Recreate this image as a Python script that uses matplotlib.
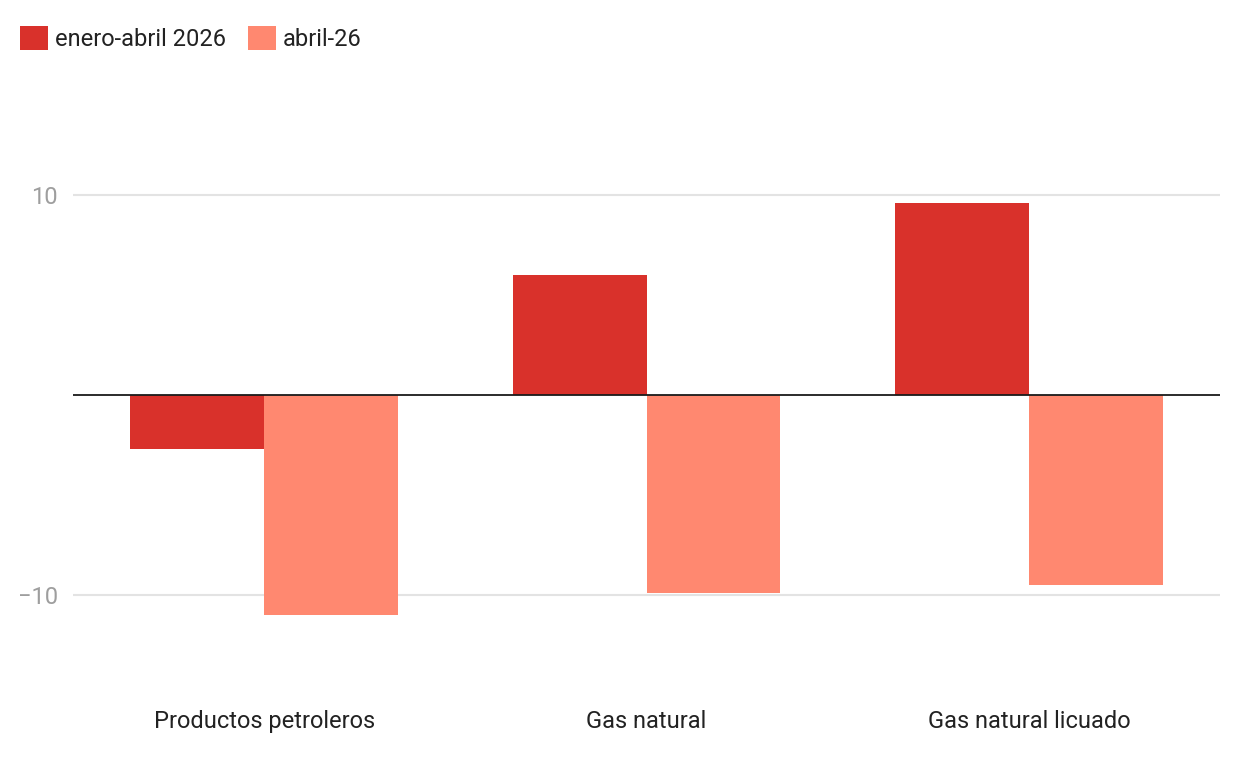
import matplotlib
matplotlib.use("Agg")
import matplotlib.pyplot as plt
import numpy as np

categories = ["Productos petroleros", "Gas natural", "Gas natural licuado"]
series_names = ["enero-abril 2026", "abril-26"]
enero_abril = [-2.7, 6.0, 9.6]
abril = [-11.0, -9.9, -9.5]
colors = ["#d9312b", "#ff8870"]
yticks = [-10, 10]

plt.rcParams["font.family"] = ["Roboto", "DejaVu Sans"]

fig = plt.figure(figsize=(12.4, 7.6), dpi=100)
W, H = 1240, 760
top_px, bot_px = 95, 695
ax = fig.add_axes([73 / W, (H - bot_px) / H, (1220 - 73) / W, (bot_px - top_px) / H])

x = np.arange(len(categories))
w = 0.35
b1 = ax.bar(x - w / 2, enero_abril, width=w, color=colors[0], label=series_names[0], zorder=3)
b2 = ax.bar(x + w / 2, abril, width=w, color=colors[1], label=series_names[1], zorder=3)

ax.set_xlim(-0.5, len(categories) - 0.5)
ax.set_ylim(-15, 15)
ax.set_yticks(yticks)
ax.set_yticklabels([("\u2212" if v < 0 else "") + str(abs(v)) for v in yticks])
for v in yticks:
    ax.axhline(v, color="#e3e3e3", lw=1.5, zorder=1)
ax.axhline(0, color="#1a1a1a", lw=1.3, zorder=4)

ax.set_xticks(x)
ax.set_xticklabels(categories)
ax.tick_params(axis="x", length=0, pad=10.5, labelsize=17, labelcolor="#222222")
ax.tick_params(axis="y", length=0, pad=11, labelsize=17, labelcolor="#9e9e9e")
for s in ax.spines.values():
    s.set_visible(False)

fig.legend(handles=[b1, b2], labels=series_names, loc="upper left",
           bbox_to_anchor=(20 / W, 1 - 26 / H), ncol=2, frameon=False,
           borderpad=0, borderaxespad=0,
           fontsize=17, handlelength=1.2, handleheight=1.2,
           handletextpad=0.3, columnspacing=0.9, labelcolor="#222222")

fig.savefig("out.png", dpi=100, facecolor="white")
